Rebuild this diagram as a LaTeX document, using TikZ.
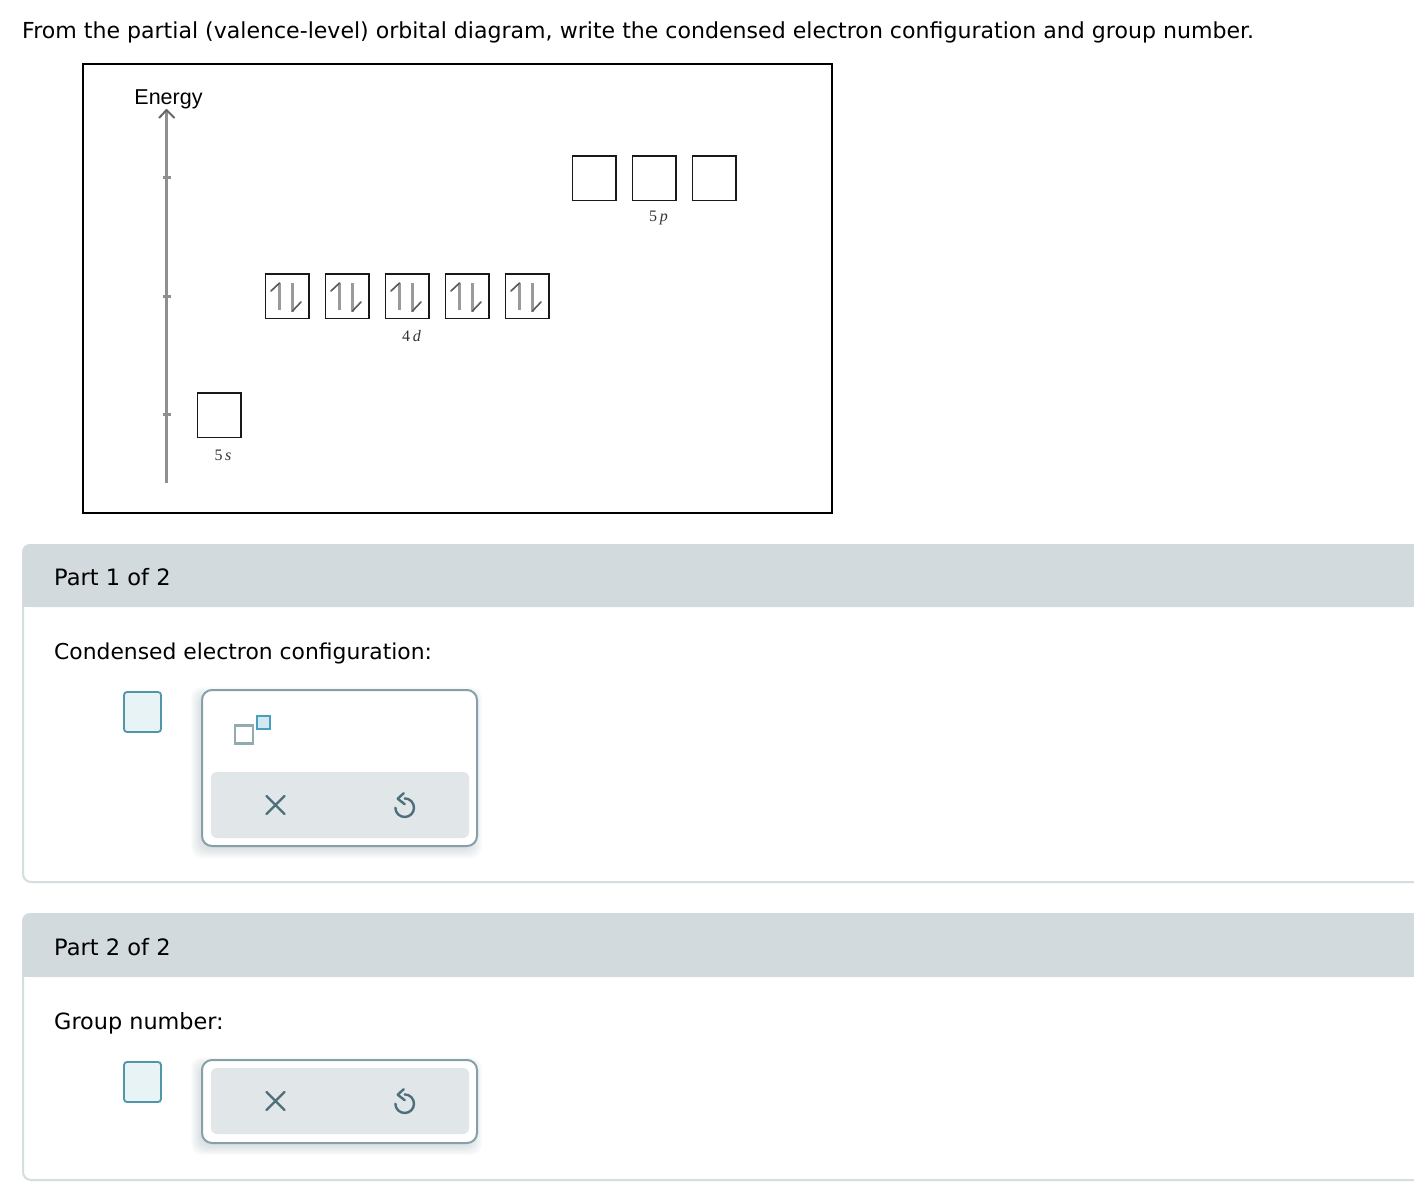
\documentclass[tikz,border=0pt]{standalone}
\usepackage{fontspec}
\setmainfont{DejaVu Sans}
\newfontfamily\arialf{Liberation Sans}
\newfontfamily\timesf{Liberation Serif}
\definecolor{hdr}{HTML}{D3DADD}
\definecolor{bordr}{HTML}{D5DDE0}
\definecolor{inpfill}{HTML}{E8F3F6}
\definecolor{inpline}{HTML}{4F97A8}
\definecolor{palline}{HTML}{87A0A8}
\definecolor{palfill}{HTML}{E1E6E8}
\definecolor{iconc}{HTML}{4D6F7C}
\definecolor{smallb}{HTML}{4A9FBB}
\definecolor{smallf}{HTML}{D3E9F1}
\definecolor{axisc}{HTML}{8F8F8F}
\definecolor{stemc}{HTML}{9A9A9A}
\tikzset{
  x=1pt,y=-1pt,
  orb/.style={draw=black!90,line width=1.5pt,fill=white,minimum width=43.5pt,minimum height=44.5pt,inner sep=0pt,outer sep=0pt},
  sublabel/.style={font=\timesf\fontsize{16}{16}\selectfont,text=black!80,inner sep=0pt},
  body/.style={anchor=base west,inner sep=0pt,text=black},
  stem/.style={draw=stemc,line width=2.8pt},
  barb/.style={draw=black!65,line width=1.6pt,line cap=round},
  inpbox/.style={draw=inpline,fill=inpfill,line width=1.8pt,rounded corners=3pt,minimum width=37pt,minimum height=40pt,inner sep=0pt,outer sep=0pt},
  pairarrows/.pic={
    \draw[stem] (-7.5,-13) -- (-7.5,14);
    \draw[barb] (-7.5,-13) -- (-16,-5);
    \draw[stem] (5.5,-13) -- (5.5,16);
    \draw[barb] (5.5,15) -- (14,6);
  },
  closex/.pic={
    \draw[iconc,line width=2.4pt,line cap=round] (-9,-9) -- (9,9) (-9,9) -- (9,-9);
  },
  undoicon/.pic={
    \draw[iconc,line width=2.4pt,line cap=round,line join=round] (0,-9.3) arc[start angle=-90,end angle=180,radius=9.3];
    \draw[iconc,line width=2.4pt,line cap=round,line join=round] (-1,-14.5) -- (-7,-9) -- (0,-3.5);
  },
}
\newcommand{\softshadow}[4]{%
  \foreach \g in {10,9,...,0}{%
    \fill[palline,opacity=0.028,rounded corners=10pt] (#1-\g-1,#2-\g+7) rectangle (#3+\g-5,#4+\g+2);
  }}
\begin{document}
\begin{tikzpicture}
\useasboundingbox (0,0) rectangle (1414,1194);
\fill[white] (0,0) rectangle (1414,1194);

\node[body,font=\fontsize{22.07}{26}\selectfont] (title) at (22,38) {From the partial (valence-level) orbital diagram, write the condensed electron configuration and group number.};

% diagram frame
\node[draw=black,line width=2pt,fill=white,minimum width=749pt,minimum height=449pt,inner sep=0pt,outer sep=0pt] (frame) at (457.5,288.5) {};
\node[font=\arialf\fontsize{21.5}{24}\selectfont,inner sep=0pt] (energy) at (168.5,99) {Energy};

% axis
\coordinate (axistop) at (166.5,110);
\coordinate (axisbot) at (166.5,483);
\draw[axisc,line width=3pt] (axisbot) -- (axistop);
\draw[black!60,line width=2pt,line join=round] (159,118) -- (axistop) -- (174.5,118);
\foreach \t in {177,296,414} \draw[axisc,line width=3pt] (162.5,\t) -- (171,\t);

% orbitals
\node[orb] (s1) at (219,415) {};
\node[sublabel] (sl) at (223,455) {5\,\textit{s}};
\foreach \n/\cx in {1/287,2/347,3/407,4/467,5/527}{
  \node[orb] (d\n) at (\cx,296) {};
  \pic at (\cx,296) {pairarrows};
}
\node[sublabel] (dl) at (411.5,336) {4\,\textit{d}};
\foreach \n/\cx in {1/594,2/654,3/714}{
  \node[orb] (p\n) at (\cx,178) {};
}
\node[sublabel] (pl) at (658.5,218) {5\,\textit{p}};

% part 1
\draw[bordr,line width=2pt,rounded corners=8pt] (1416,882) -- (23,882) -- (23,600);
\fill[hdr,rounded corners=8pt] (22,607) -- (22,544) -- (1420,544) -- (1420,607) -- cycle;
\fill[hdr] (22,590) rectangle (1414,607);
\node[body,font=\fontsize{22.55}{26}\selectfont] (part1) at (54,585) {Part 1 of 2};
\node[body,font=\fontsize{21.85}{26}\selectfont] (cec) at (54,659) {Condensed electron configuration:};
\node[inpbox] (inp1) at (142.5,712) {};
\softshadow{202}{690}{477}{846}
\draw[palline,fill=white,line width=2pt,rounded corners=10pt] (202,690) rectangle (477,846);
\node[draw=palline!90,line width=2.4pt,fill=white,minimum width=18pt,minimum height=18pt,inner sep=0pt] (base) at (244,734.5) {};
\node[draw=smallb,line width=2pt,fill=smallf,minimum width=13pt,minimum height=13pt,inner sep=0pt] (sup) at (263.5,722.5) {};
\fill[palfill,rounded corners=6pt] (211,772) rectangle (469,838);
\pic at (275.5,805) {closex};
\pic at (404.7,807.7) {undoicon};

% part 2
\draw[bordr,line width=2pt,rounded corners=8pt] (1416,1180) -- (23,1180) -- (23,970);
\fill[hdr,rounded corners=8pt] (22,977) -- (22,913) -- (1420,913) -- (1420,977) -- cycle;
\fill[hdr] (22,960) rectangle (1414,977);
\node[body,font=\fontsize{22.55}{26}\selectfont] (part2) at (54,955) {Part 2 of 2};
\node[body,font=\fontsize{22.35}{26}\selectfont] (grp) at (54,1029) {Group number:};
\node[inpbox] (inp2) at (142.5,1082) {};
\softshadow{202}{1060}{477}{1143}
\draw[palline,fill=white,line width=2pt,rounded corners=10pt] (202,1060) rectangle (477,1143);
\fill[palfill,rounded corners=6pt] (211,1068) rectangle (469,1134);
\pic at (275.5,1101) {closex};
\pic at (404.7,1103.7) {undoicon};
\end{tikzpicture}
\end{document}
